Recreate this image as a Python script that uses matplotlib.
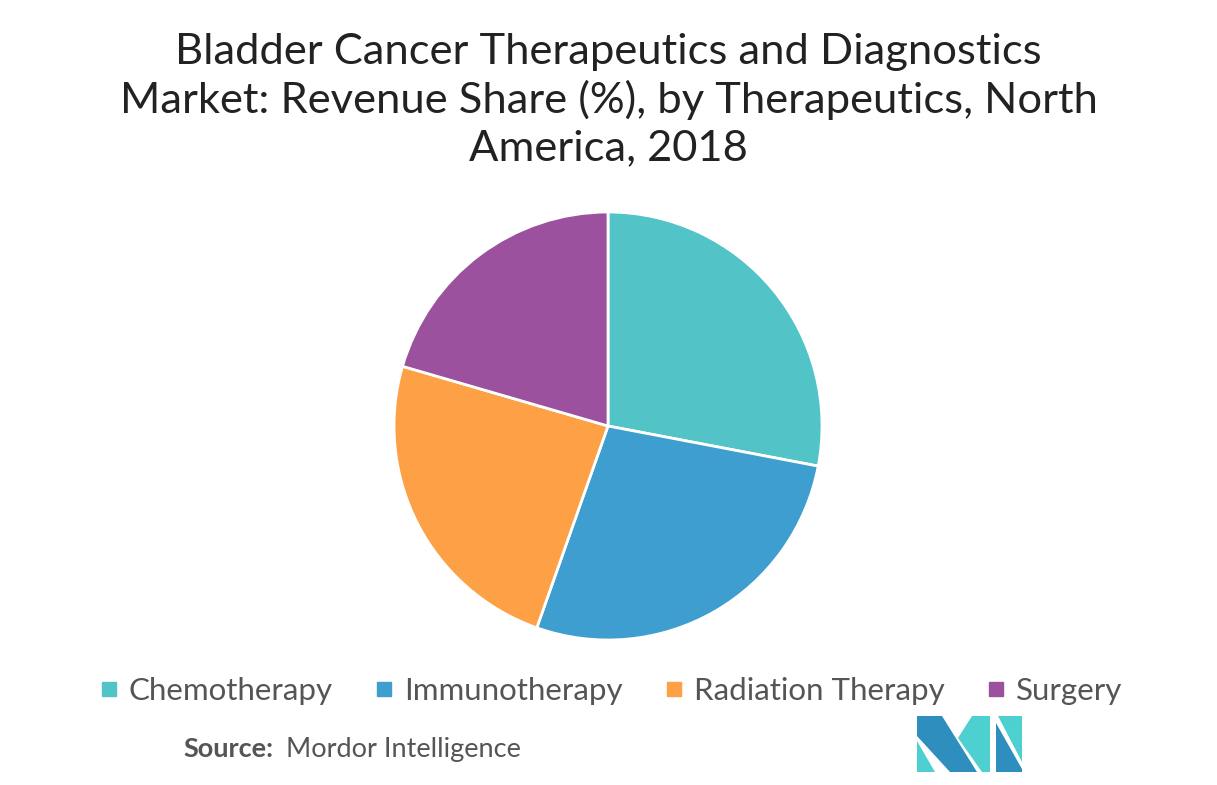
import matplotlib
matplotlib.use("Agg")
import matplotlib.pyplot as plt
from matplotlib.patches import Polygon
from matplotlib.lines import Line2D

# Revenue share (%)
segments = ['Chemotherapy', 'Immunotherapy', 'Radiation Therapy', 'Surgery']
shares = [28.0, 27.4, 24.1, 20.5]
colors = ['#52C3C6', '#3E9ECF', '#FDA046', '#9B519E']

title = ('Bladder Cancer Therapeutics and Diagnostics\n'
         'Market: Revenue Share (%), by Therapeutics, North\n'
         'America, 2018')

W, H = 1217, 785
plt.rcParams['font.family'] = ['Lato', 'DejaVu Sans']

fig = plt.figure(figsize=(W / 100, H / 100), dpi=100)
fig.patch.set_facecolor('white')

# overlay axes in pixel coordinates for the logo
over = fig.add_axes([0, 0, 1, 1])
over.set_xlim(0, W)
over.set_ylim(H, 0)
over.axis('off')

# pie: centre (608, 426), radius 214 px
cx, cy, r = 608, 426, 214
ax = fig.add_axes([(cx - r) / W, (H - cy - r) / H, 2 * r / W, 2 * r / H])
ax.pie(shares, colors=colors, startangle=90, counterclock=False,
       wedgeprops=dict(edgecolor='white', linewidth=2))
ax.set_xlim(-1, 1)
ax.set_ylim(-1, 1)
ax.set_aspect('equal')
ax.axis('off')

fig.text(0.5, 1 - 100 / H, title, ha='center', va='center', fontsize=31.3,
         color='#222222', linespacing=1.28)

# legend
handles = [Line2D([0], [0], marker='s', linestyle='', markersize=10.5,
                  markerfacecolor=c, markeredgecolor=c) for c in colors]
fig.legend(handles, segments, loc='center', bbox_to_anchor=(0.5, 1 - 691 / H),
           ncol=4, frameon=False, fontsize=22.5, labelcolor='#555555',
           handletextpad=0.2, columnspacing=1.18, handlelength=0.9)

# source
fig.text(183 / W, 1 - 749 / H, 'Source:', ha='left', va='center',
         fontsize=19.5, fontweight='bold', color='#555555')
fig.text(286 / W, 1 - 749 / H, 'Mordor Intelligence', ha='left', va='center',
         fontsize=19.5, color='#555555')

# logo
dark, teal = '#2E8FBF', '#4ECFD0'
logo = [
    ([(917, 716), (942, 716), (977, 772), (950, 772), (917, 736)], dark),
    ([(917, 741), (917, 772), (935, 772)], teal),
    ([(958, 738), (972, 716), (990, 716), (990, 772), (982, 772)], teal),
    ([(998, 716), (1022, 716), (1022, 762)], teal),
    ([(996, 723), (996, 772), (1022, 772), (1022, 769)], dark),
]
for pts, c in logo:
    over.add_patch(Polygon(pts, closed=True, facecolor=c, edgecolor='none'))

fig.savefig('out.png', dpi=100)
